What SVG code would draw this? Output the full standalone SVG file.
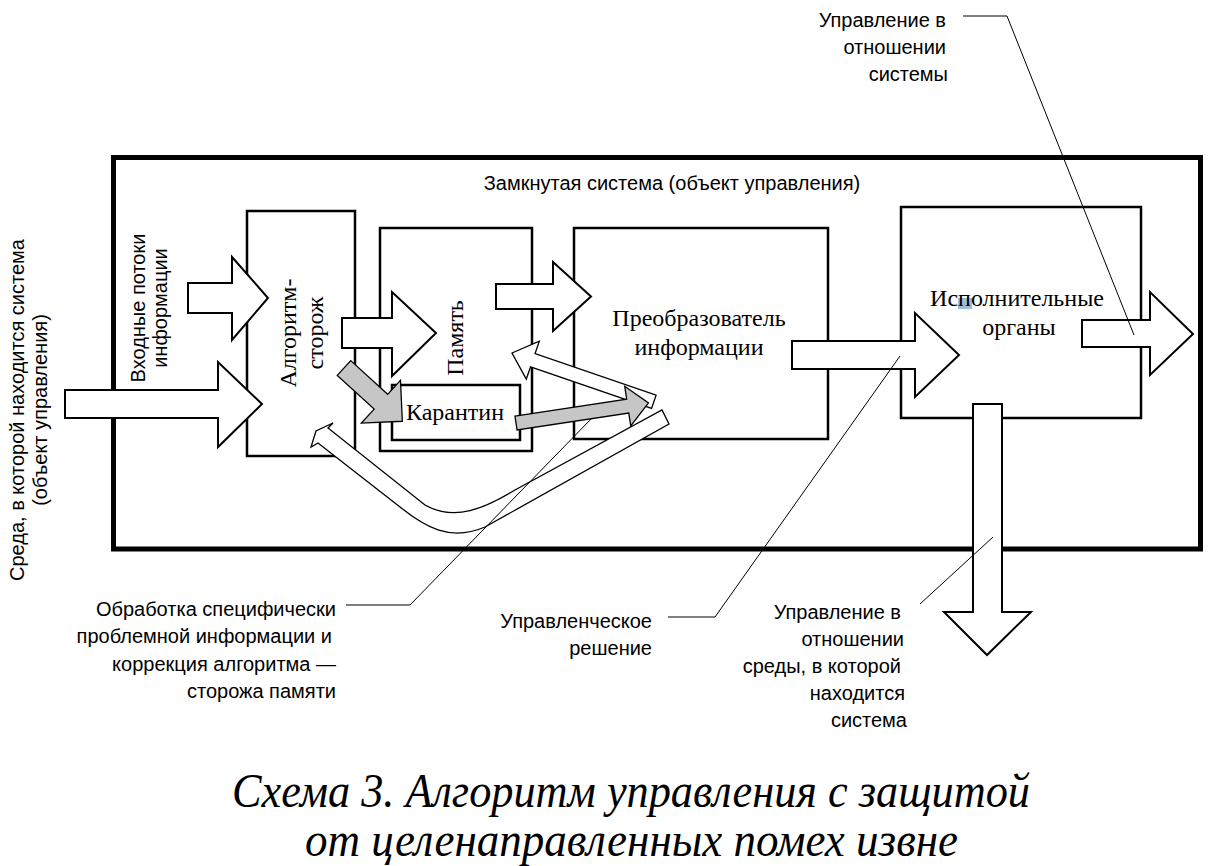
<svg xmlns="http://www.w3.org/2000/svg" width="1223" height="866" viewBox="0 0 1223 866">
<defs>
<style>
.box{fill:none;stroke:#000;stroke-width:2.5}
.outer{fill:none;stroke:#000;stroke-width:5}
.arw{fill:#fff;stroke:#000;stroke-width:2;stroke-linejoin:miter}
.thin{fill:#fff;stroke:#000;stroke-width:1.3;stroke-linejoin:miter}
.gray{fill:#c6c6c6;stroke:#000;stroke-width:1.3;stroke-linejoin:miter}
.lead{fill:none;stroke:#000;stroke-width:1}
.sans{font-family:"Liberation Sans",Arial,sans-serif;font-size:20px;fill:#000}
.serif{font-family:"Liberation Serif","Times New Roman",serif;font-size:24px;fill:#000}
.cap{font-family:"Liberation Serif","Times New Roman",serif;font-size:48px;font-style:italic;fill:#000}
</style>
</defs>
<rect width="1223" height="866" fill="#fff"/>

<g id="system">
<rect class="outer" x="113.5" y="157.5" width="1087" height="391.5"/>
<text class="sans" x="672" y="190" text-anchor="middle">Замкнутая система (объект управления)</text>
</g>

<g id="algo">
<rect class="box" x="247" y="211" width="108" height="245"/>
<text class="serif" text-anchor="middle" transform="translate(296,333) rotate(-90)">Алгоритм-</text>
<text class="serif" text-anchor="middle" transform="translate(323,333) rotate(-90)">сторож</text>
</g>

<g id="memory">
<rect class="box" x="380" y="228" width="152" height="223"/>
<text class="serif" text-anchor="middle" transform="translate(463,338) rotate(-90)">Память</text>
</g>

<g id="quarantine">
<rect class="box" x="392" y="385" width="128" height="55"/>
<text class="serif" x="455" y="420" text-anchor="middle">Карантин</text>
</g>

<g id="converter">
<rect class="box" x="574" y="228" width="254" height="211"/>
<text class="serif" x="699" y="326" text-anchor="middle">Преобразователь</text>
<text class="serif" x="699" y="355" text-anchor="middle">информации</text>
</g>

<g id="executors">
<rect class="box" x="901" y="207" width="240" height="211"/>
<rect x="958" y="298" width="14" height="11" fill="#9dbddb"/>
<text class="serif" x="1017" y="306" text-anchor="middle">Исполнительные</text>
<text class="serif" x="1019" y="335" text-anchor="middle">органы</text>
</g>

<g id="env-label">
<text class="sans" text-anchor="middle" transform="translate(24,410) rotate(-90)">Среда, в которой находится система</text>
<text class="sans" text-anchor="middle" transform="translate(47,410) rotate(-90)">(объект управления)</text>
</g>

<g id="input-label">
<text class="sans" text-anchor="middle" transform="translate(145,308) rotate(-90)">Входные потоки</text>
<text class="sans" text-anchor="middle" transform="translate(167,308) rotate(-90)">информации</text>
</g>

<g id="connectors">
<polygon class="arw" points="65,390 218,390 218,362 262,404 218,447 218,418 65,418"/>
<polygon class="arw" points="188,283 232,283 232,257 268,298 232,340 232,313 188,313"/>
<polygon class="arw" points="342,318 392,318 392,292 436,333 392,376 392,348 342,348"/>
<polygon class="arw" points="496,284 553,284 553,262 591,296.5 553,331 553,309 496,309"/>
<polygon class="arw" points="792,341 915,341 915,313 959,355 915,397 915,369 792,369"/>
<polygon class="arw" points="1082,320 1150,320 1150,292 1193,334 1150,375 1150,347 1082,347"/>
<polygon class="arw" points="973,404 1002,404 1002,612 1031,612 987,655 944,612 973,612"/>
<path class="thin" d="M328,428 L333,423 L316,431 L311,447 L318,443 L400,507 C425,527 450,542 485,527 L669,424 L662,410 L515,490 C485,508 455,522 425,505 Z"/>
<polygon class="thin" transform="translate(512,353) rotate(19)" points="0,0 22,-20 22,-7 150,-7 150,7 22,7 22,20"/>
<polygon class="gray" transform="translate(344,368) rotate(42.4)" points="0,-10 50,-10 50,-29 79,0 50,29 50,10 0,10"/>
<polygon class="gray" transform="translate(516,423) rotate(-8.6)" points="0,-7 113,-7 113,-20 134,0 113,20 113,7 0,7"/>
<path class="lead" d="M963,16 L1007,16 L1134,335"/>
<path class="lead" d="M346,605 L410,605 L592,418"/>
<path class="lead" d="M668,617 L715,617 L900,356"/>
<path class="lead" d="M920,604 L993,537"/>
</g>

<g id="label-system-control">
<text class="sans" x="946" y="27" text-anchor="end">Управление в</text>
<text class="sans" x="946" y="54" text-anchor="end">отношении</text>
<text class="sans" x="948" y="81" text-anchor="end">системы</text>
</g>

<g id="label-processing">
<text class="sans" x="336" y="616" text-anchor="end">Обработка специфически</text>
<text class="sans" x="332" y="643" text-anchor="end">проблемной информации и</text>
<text class="sans" x="336" y="671" text-anchor="end">коррекция алгоритма —</text>
<text class="sans" x="336" y="698" text-anchor="end">сторожа памяти</text>
</g>

<g id="label-decision">
<text class="sans" x="652" y="628" text-anchor="end">Управленческое</text>
<text class="sans" x="652" y="655" text-anchor="end">решение</text>
</g>

<g id="label-env-control">
<text class="sans" x="901" y="619" text-anchor="end">Управление в</text>
<text class="sans" x="904" y="646" text-anchor="end">отношении</text>
<text class="sans" x="901" y="673" text-anchor="end">среды, в которой</text>
<text class="sans" x="905" y="700" text-anchor="end">находится</text>
<text class="sans" x="907" y="727" text-anchor="end">система</text>
</g>

<g id="caption">
<text class="cap" x="232" y="807" textLength="798" lengthAdjust="spacingAndGlyphs">Схема 3. Алгоритм управления с защитой</text>
<text class="cap" x="305" y="856" textLength="653" lengthAdjust="spacingAndGlyphs">от целенаправленных помех извне</text>
</g>
</svg>
